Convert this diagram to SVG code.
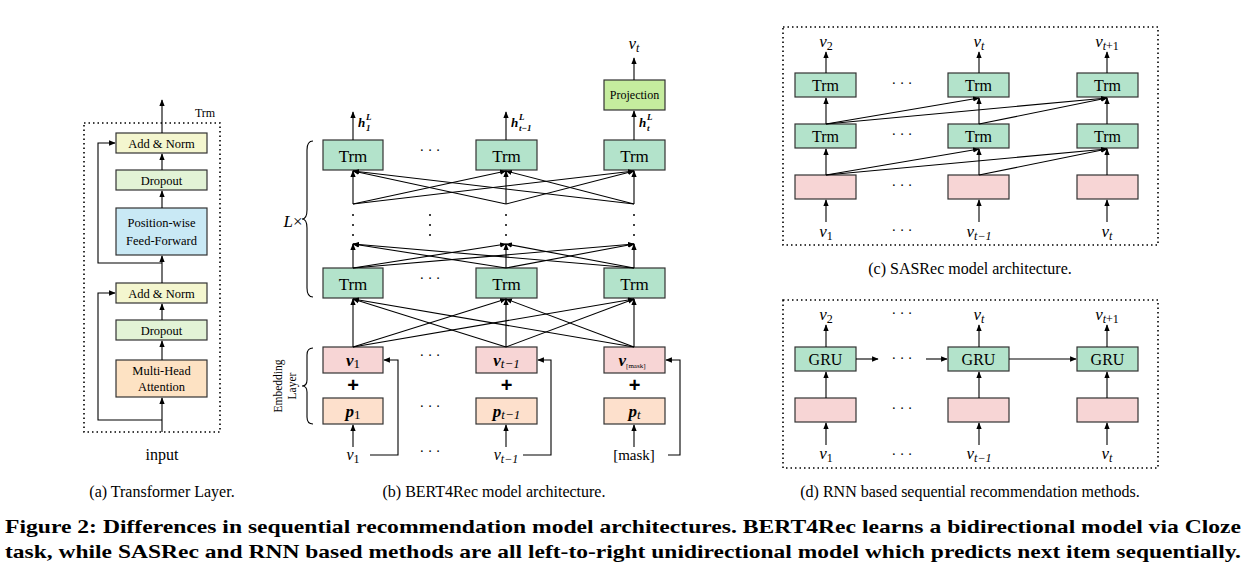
<svg xmlns="http://www.w3.org/2000/svg" width="1246" height="569" viewBox="0 0 1246 569">
<defs>
<marker id="ah" viewBox="0 0 10 10" refX="9" refY="5" markerWidth="6" markerHeight="6" orient="auto"><path d="M0,1 L10,5 L0,9 z" fill="#000"/></marker>
<style>
.b{stroke:#333;stroke-width:1.2}
.t{font-family:"Liberation Serif",serif;fill:#000;text-anchor:middle}
.m{font-family:"Liberation Serif",serif;font-style:italic;fill:#000;text-anchor:middle}
.h{font-family:"Liberation Serif",serif;font-style:italic;font-weight:bold;fill:#000}
.l{stroke:#000;stroke-width:1.1;fill:none}
.a{stroke:#000;stroke-width:1.1;fill:none;marker-end:url(#ah)}
.d{stroke:#000;stroke-width:1.6;fill:none;stroke-dasharray:1.5 3}
.trm{fill:#b3e3cb}.pk{fill:#f7d5d5}.pe{fill:#fde0cc}
</style>
</defs>
<rect width="1246" height="569" fill="#fff"/>

<!-- Panel (a) -->
<g id="panel-a">
<rect x="84" y="123" width="136" height="309" class="d"/>
<text x="205" y="117" class="t" font-size="12">Trm</text>
<g id="a-addnorm2"><rect x="116" y="133" width="91" height="20" fill="#f4f6cf" class="b"/><text x="161.5" y="147.5" class="t" font-size="12.5">Add &amp; Norm</text></g>
<g id="a-dropout2"><rect x="116" y="170" width="91" height="20" fill="#e2f3d6" class="b"/><text x="161.5" y="184.5" class="t" font-size="12.5">Dropout</text></g>
<g id="a-ffn"><rect x="116" y="208" width="91" height="47" fill="#c9e9f5" class="b"/><text x="161.5" y="227" class="t" font-size="12.5">Position-wise</text><text x="161.5" y="245" class="t" font-size="12.5">Feed-Forward</text></g>
<g id="a-addnorm1"><rect x="116" y="283" width="91" height="20" fill="#f4f6cf" class="b"/><text x="161.5" y="297.5" class="t" font-size="12.5">Add &amp; Norm</text></g>
<g id="a-dropout1"><rect x="116" y="320" width="91" height="20" fill="#e2f3d6" class="b"/><text x="161.5" y="334.5" class="t" font-size="12.5">Dropout</text></g>
<g id="a-mha"><rect x="116" y="360" width="91" height="37" fill="#fde2c3" class="b"/><text x="161.5" y="375" class="t" font-size="12.5">Multi-Head</text><text x="161.5" y="391" class="t" font-size="12.5">Attention</text></g>
<text x="162" y="460" class="t" font-size="16">input</text>
</g>

<!-- Panel (b) -->
<g id="panel-b">
<g id="b-trm-top"><rect x="323" y="140" width="60" height="30" class="trm b"/><text x="353" y="162" class="t" font-size="17">Trm</text>
<rect x="476" y="140" width="61" height="30" class="trm b"/><text x="506.5" y="162" class="t" font-size="17">Trm</text>
<rect x="604" y="140" width="61" height="30" class="trm b"/><text x="634.5" y="162" class="t" font-size="17">Trm</text></g>
<g id="b-trm-bot"><rect x="323" y="268" width="60" height="30" class="trm b"/><text x="353" y="290" class="t" font-size="17">Trm</text>
<rect x="476" y="268" width="61" height="30" class="trm b"/><text x="506.5" y="290" class="t" font-size="17">Trm</text>
<rect x="604" y="268" width="61" height="30" class="trm b"/><text x="634.5" y="290" class="t" font-size="17">Trm</text></g>
<g id="b-proj"><rect x="604" y="80" width="61" height="30" fill="#c5ec9e" class="b"/><text x="634.5" y="99" class="t" font-size="12">Projection</text></g>
<g id="b-emb-v"><rect x="323" y="347" width="60" height="26" class="pk b"/><text x="353" y="366" class="m" font-size="17" font-weight="bold">v<tspan font-style="normal" font-weight="normal" font-size="13" dy="2">1</tspan></text>
<rect x="476" y="347" width="61" height="26" class="pk b"/><text x="506.5" y="366" class="m" font-size="17" font-weight="bold">v<tspan font-weight="normal" font-size="13" dy="2">t−1</tspan></text>
<rect x="604" y="347" width="61" height="26" class="pk b"/><text x="632" y="366" class="m" font-size="17" font-weight="bold">v<tspan font-style="normal" font-weight="normal" font-size="7" dy="2">[mask]</tspan></text></g>
<g id="b-emb-p"><rect x="323" y="398" width="60" height="26" class="pe b"/><text x="353" y="417" class="m" font-size="17" font-weight="bold">p<tspan font-style="normal" font-weight="normal" font-size="13" dy="2">1</tspan></text>
<rect x="476" y="398" width="61" height="26" class="pe b"/><text x="506.5" y="417" class="m" font-size="17" font-weight="bold">p<tspan font-weight="normal" font-size="13" dy="2">t−1</tspan></text>
<rect x="604" y="398" width="61" height="26" class="pe b"/><text x="634.5" y="417" class="m" font-size="17" font-weight="bold">p<tspan font-weight="normal" font-size="13" dy="2">t</tspan></text></g>
<g font-family="Liberation Sans,sans-serif" font-weight="bold" font-size="20" text-anchor="middle"><text x="353" y="392">+</text><text x="506.5" y="392">+</text><text x="634.5" y="392">+</text></g>
<text x="353" y="460" class="m" font-size="16">v<tspan font-style="normal" font-size="12" dy="3">1</tspan></text>
<text x="506" y="460" class="m" font-size="16">v<tspan font-size="12" dy="3">t−1</tspan></text>
<text x="634" y="460" class="t" font-size="15">[mask]</text>
<g id="b-hlabels">
<text x="358" y="127" class="h" font-size="13">h</text><text x="366" y="131" class="h" font-size="9" font-style="normal" font-weight="normal">1</text><text x="366" y="120" class="h" font-size="9">L</text>
<text x="511" y="127" class="h" font-size="13">h</text><text x="519" y="131" class="h" font-size="9" font-weight="normal">t−1</text><text x="519" y="120" class="h" font-size="9">L</text>
<text x="639" y="127" class="h" font-size="13">h</text><text x="647" y="131" class="h" font-size="9">t</text><text x="647" y="120" class="h" font-size="9">L</text>
</g>
<text x="634" y="49" class="m" font-size="17">v<tspan font-size="12" dy="3">t</tspan></text>
<text x="293" y="227" class="m" font-size="17">L<tspan font-style="normal">×</tspan></text>
<path d="M313,141 Q307,141 307,150 L307,210 Q307,219 302,219 Q307,219 307,228 L307,288 Q307,297 313,297" class="l"/>
<path d="M313,348 Q307,348 307,355 L307,380 Q307,386 302,386 Q307,386 307,392 L307,417 Q307,424 313,424" class="l"/>
<text transform="translate(282,386) rotate(-90)" class="t" font-size="11.5">Embedding</text>
<text transform="translate(296,386) rotate(-90)" class="t" font-size="11.5">Layer</text>
<g font-family="Liberation Serif,serif" font-size="14" text-anchor="middle"><text x="430" y="155">· · ·</text><text x="430" y="283">· · ·</text><text x="430" y="360">· · ·</text><text x="430" y="411">· · ·</text><text x="430" y="456">· · ·</text></g>
<g fill="#000"><circle cx="353" cy="215" r="1"/><circle cx="353" cy="225" r="1"/><circle cx="353" cy="235" r="1"/>
<circle cx="430" cy="215" r="1"/><circle cx="430" cy="225" r="1"/><circle cx="430" cy="235" r="1"/>
<circle cx="506" cy="215" r="1"/><circle cx="506" cy="225" r="1"/><circle cx="506" cy="235" r="1"/>
<circle cx="634" cy="215" r="1"/><circle cx="634" cy="225" r="1"/><circle cx="634" cy="235" r="1"/></g>
</g>

<!-- Panel (c) -->
<g id="panel-c">
<rect x="783" y="27" width="375" height="218" class="d"/>
<g id="c-trm-top"><rect x="795" y="73" width="61" height="24" class="trm b"/><text x="825.5" y="91" class="t" font-size="16">Trm</text>
<rect x="948" y="73" width="61" height="24" class="trm b"/><text x="978.5" y="91" class="t" font-size="16">Trm</text>
<rect x="1077" y="73" width="61" height="24" class="trm b"/><text x="1107.5" y="91" class="t" font-size="16">Trm</text></g>
<g id="c-trm-mid"><rect x="795" y="124" width="61" height="24" class="trm b"/><text x="825.5" y="142" class="t" font-size="16">Trm</text>
<rect x="948" y="124" width="61" height="24" class="trm b"/><text x="978.5" y="142" class="t" font-size="16">Trm</text>
<rect x="1077" y="124" width="61" height="24" class="trm b"/><text x="1107.5" y="142" class="t" font-size="16">Trm</text></g>
<g id="c-emb"><rect x="795" y="175" width="61" height="24" class="pk b"/><rect x="948" y="175" width="61" height="24" class="pk b"/><rect x="1077" y="175" width="61" height="24" class="pk b"/></g>
<g class="m" font-size="17"><text x="826" y="47">v<tspan font-style="normal" font-size="12" dy="3">2</tspan></text><text x="979" y="47">v<tspan font-size="12" dy="3">t</tspan></text><text x="1107" y="47">v<tspan font-size="12" dy="3">t<tspan font-style="normal">+1</tspan></tspan></text>
<text x="826" y="237">v<tspan font-style="normal" font-size="12" dy="3">1</tspan></text><text x="979" y="237">v<tspan font-size="12" dy="3">t−1</tspan></text><text x="1107" y="237">v<tspan font-size="12" dy="3">t</tspan></text></g>
<g font-family="Liberation Serif,serif" font-size="14" text-anchor="middle"><text x="902" y="88">· · ·</text><text x="902" y="139">· · ·</text><text x="902" y="190">· · ·</text><text x="902" y="235">· · ·</text></g>
<text x="970" y="274" class="t" font-size="16">(c) SASRec model architecture.</text>
</g>

<!-- Panel (d) -->
<g id="panel-d">
<rect x="783" y="300" width="375" height="168" class="d"/>
<g id="d-gru"><rect x="795" y="347" width="61" height="24" class="trm b"/><text x="825.5" y="365" class="t" font-size="16">GRU</text>
<rect x="948" y="347" width="61" height="24" class="trm b"/><text x="978.5" y="365" class="t" font-size="16">GRU</text>
<rect x="1077" y="347" width="61" height="24" class="trm b"/><text x="1107.5" y="365" class="t" font-size="16">GRU</text></g>
<g id="d-emb"><rect x="795" y="398" width="61" height="24" class="pk b"/><rect x="948" y="398" width="61" height="24" class="pk b"/><rect x="1077" y="398" width="61" height="24" class="pk b"/></g>
<g class="m" font-size="17"><text x="826" y="320">v<tspan font-style="normal" font-size="12" dy="3">2</tspan></text><text x="979" y="320">v<tspan font-size="12" dy="3">t</tspan></text><text x="1107" y="320">v<tspan font-size="12" dy="3">t<tspan font-style="normal">+1</tspan></tspan></text>
<text x="826" y="459">v<tspan font-style="normal" font-size="12" dy="3">1</tspan></text><text x="979" y="459">v<tspan font-size="12" dy="3">t−1</tspan></text><text x="1107" y="459">v<tspan font-size="12" dy="3">t</tspan></text></g>
<g font-family="Liberation Serif,serif" font-size="14" text-anchor="middle"><text x="902" y="318">· · ·</text><text x="902" y="363">· · ·</text><text x="902" y="413">· · ·</text><text x="902" y="459">· · ·</text></g>
</g>

<!-- Connectors -->
<g id="connectors">
<path d="M162,432 L162,398" class="a"/><path d="M162,360 L162,341" class="a"/><path d="M162,320 L162,304" class="a"/>
<path d="M162,283 L162,256" class="a"/><path d="M162,208 L162,191" class="a"/><path d="M162,170 L162,154" class="a"/><path d="M162,133 L162,100" class="a"/>
<path d="M162,420 L98,420 L98,293 L115,293" class="a"/><path d="M162,263 L98,263 L98,143 L115,143" class="a"/>
<path d="M353,447 L353,425" class="a"/><path d="M506,447 L506,425" class="a"/><path d="M634,447 L634,425" class="a"/>
<path d="M370,455 L398,455 L398,360 L384,360" class="a"/><path d="M523,455 L551,455 L551,360 L538,360" class="a"/><path d="M668,455 L680,455 L680,360 L666,360" class="a"/>
<path d="M353,347 L353,299" class="a"/><path d="M353,347 L506,299" class="a"/><path d="M353,347 L634,299" class="a"/>
<path d="M506,347 L353,299" class="a"/><path d="M506,347 L506,299" class="a"/><path d="M506,347 L634,299" class="a"/>
<path d="M634,347 L353,299" class="a"/><path d="M634,347 L506,299" class="a"/><path d="M634,347 L634,299" class="a"/>
<path d="M353,268 L353,244" class="a"/><path d="M353,268 L506,244" class="a"/><path d="M353,268 L634,244" class="a"/>
<path d="M506,268 L353,244" class="a"/><path d="M506,268 L506,244" class="a"/><path d="M506,268 L634,244" class="a"/>
<path d="M634,268 L353,244" class="a"/><path d="M634,268 L506,244" class="a"/><path d="M634,268 L634,244" class="a"/>
<path d="M353,204 L353,171" class="a"/><path d="M353,204 L506,171" class="a"/><path d="M353,204 L634,171" class="a"/>
<path d="M506,204 L353,171" class="a"/><path d="M506,204 L506,171" class="a"/><path d="M506,204 L634,171" class="a"/>
<path d="M634,204 L353,171" class="a"/><path d="M634,204 L506,171" class="a"/><path d="M634,204 L634,171" class="a"/>
<path d="M353,140 L353,112" class="a"/><path d="M506,140 L506,112" class="a"/><path d="M634,140 L634,111" class="a"/><path d="M634,80 L634,58" class="a"/>
<path d="M826,222 L826,200" class="a"/><path d="M979,222 L979,200" class="a"/><path d="M1107,222 L1107,200" class="a"/>
<path d="M826,175 L826,149" class="a"/><path d="M979,175 L979,149" class="a"/><path d="M1107,175 L1107,149" class="a"/>
<path d="M826,175 L979,149" class="a"/><path d="M826,175 L1107,149" class="a"/><path d="M979,175 L1107,149" class="a"/>
<path d="M826,124 L826,98" class="a"/><path d="M979,124 L979,98" class="a"/><path d="M1107,124 L1107,98" class="a"/>
<path d="M826,124 L979,98" class="a"/><path d="M826,124 L1107,98" class="a"/><path d="M979,124 L1107,98" class="a"/>
<path d="M826,73 L826,52" class="a"/><path d="M979,73 L979,52" class="a"/><path d="M1107,73 L1107,52" class="a"/>
<path d="M826,445 L826,423" class="a"/><path d="M979,445 L979,423" class="a"/><path d="M1107,445 L1107,423" class="a"/>
<path d="M826,398 L826,372" class="a"/><path d="M979,398 L979,372" class="a"/><path d="M1107,398 L1107,372" class="a"/>
<path d="M826,347 L826,325" class="a"/><path d="M979,347 L979,325" class="a"/><path d="M1107,347 L1107,325" class="a"/>
<path d="M856,359 L878,359" class="a"/><path d="M926,359 L947,359" class="a"/><path d="M1009,359 L1076,359" class="a"/>
</g>

<text x="162" y="497" class="t" font-size="16">(a) Transformer Layer.</text>
<text x="494" y="497" class="t" font-size="16">(b) BERT4Rec model architecture.</text>
<text x="970" y="497" class="t" font-size="16">(d) RNN based sequential recommendation methods.</text>
<text x="5" y="533" font-family="Liberation Serif,serif" font-weight="bold" font-size="19" textLength="1236" lengthAdjust="spacingAndGlyphs">Figure 2: Differences in sequential recommendation model architectures. BERT4Rec learns a bidirectional model via Cloze</text>
<text x="5" y="558" font-family="Liberation Serif,serif" font-weight="bold" font-size="19" textLength="1236" lengthAdjust="spacingAndGlyphs">task, while SASRec and RNN based methods are all left-to-right unidirectional model which predicts next item sequentially.</text>
</svg>
